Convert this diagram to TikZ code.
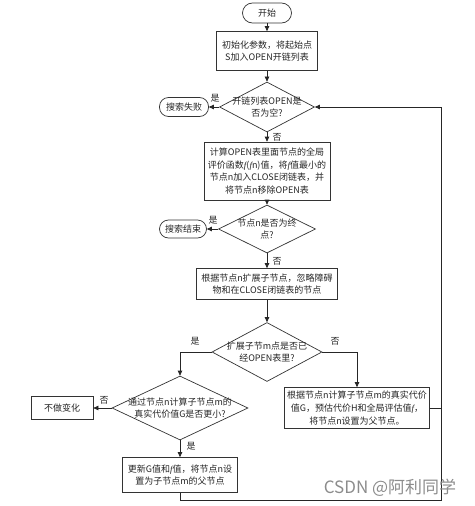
\documentclass[tikz,border=0pt]{standalone}
\usepackage{fontspec}
\setmainfont{Noto Sans CJK SC}
\newfontfamily\latserif{Liberation Serif}
\usetikzlibrary{shapes.geometric,arrows.meta}
\newcommand{\fvar}{{\latserif\itshape f}}
\begin{document}
\begin{tikzpicture}[x=1pt,y=-1pt,line width=0.7pt,
  box/.style={draw=black!80, fill=white, inner sep=0pt, align=center,
    font=\fontsize{9}{12.7}\selectfont, text=black!85},
  term/.style={box, rounded corners=9pt},
  dia/.style={draw=black!80, diamond, inner sep=0pt},
  txt/.style={inner sep=0pt, align=center, font=\fontsize{9}{12.7}\selectfont, text=black!85},
  lbl/.style={inner sep=0pt, font=\fontsize{9}{11}\selectfont, text=black!85},
  arr/.style={-{Triangle[length=5pt,width=4.5pt]}},
  conn/.style={draw=black!85}]
\useasboundingbox (0,0) rectangle (474,506);
% nodes
\node[term, minimum width=49, minimum height=20, rounded corners=10pt] (start) at (267,13) {开始};
\node[box, minimum width=101, minimum height=39] (init) at (267,51) {初始化参数，将起始点\\S加入OPEN开链列表};
\node[dia, minimum width=95, minimum height=50] (d1) at (267,107) {};
\node[txt] (t1) at (d1) {开链列表OPEN是\\否为空?};
\node[term, minimum width=49, minimum height=19] (fail) at (184,107) {搜索失败};
\node[box, minimum width=126, minimum height=58] (calc) at (267,171) {计算OPEN表里面节点的全局\\评价函数\fvar(\fvar{}n)值，将\fvar 值最小的\\节点n加入CLOSE闭链表，并\\将节点n移除OPEN表};
\node[dia, minimum width=97, minimum height=48] (d2) at (267,229) {};
\node[txt] (t2) at (d2) {节点n是否为终\\点?};
\node[term, minimum width=47, minimum height=18] (end) at (183,229) {搜索结束};
\node[box, minimum width=141, minimum height=31] (expand) at (267,284) {根据节点n扩展子节点，忽略障碍\\物和在CLOSE闭链表的节点};
\node[dia, minimum width=110, minimum height=59] (d3) at (267,352) {};
\node[txt] (t3) at (d3) {扩展子节m点是否已\\经OPEN表里?};
\node[dia, minimum width=136, minimum height=64] (d4) at (180,408) {};
\node[txt] (t4) at (d4) {通过节点n计算子节点m的\\真实代价值G是否更小?};
\node[box, minimum width=62, minimum height=23] (keep) at (62,408) {不做变化};
\node[box, minimum width=115, minimum height=35] (upd) at (180,475) {更新G值和\fvar 值，将节点n设\\置为子节点m的父节点};
\node[box, minimum width=145, minimum height=41] (calcm) at (357,408) {根据节点n计算子节点m的真实代价\\值G，预估代价H和全局评估值\fvar，\\将节点n设置为父节点。};
\coordinate (rb) at (441,500);
% connectors
\draw[conn, arr] (start) -- (init);
\draw[conn, arr] (init) -- (d1);
\draw[conn, arr] (d1.west) -- (fail.east);
\draw[conn, arr] (d1.south) -- (calc.north);
\draw[conn, arr] (calc.south) -- (d2.north);
\draw[conn, arr] (d2.west) -- (end.east);
\draw[conn, arr] (d2.south) -- (expand.north);
\draw[conn, arr] (expand.south) -- (d3.north);
\draw[conn, arr] (d3.west) -| (d4.north);
\draw[conn, arr] (d3.east) -| (calcm.north);
\draw[conn, arr] (d4.west) -- (keep.east);
\draw[conn, arr] (d4.south) -- (upd.north);
\draw[conn, arr] (upd.south) |- (rb) |- (d1.east);
\draw[conn] (calcm.east) -- (calcm.east -| rb);
% labels
\node[lbl] (l1) at (215,98) {是};
\node[lbl] (l2) at (277,137) {否};
\node[lbl] (l3) at (213,220) {是};
\node[lbl] (l4) at (277,261) {否};
\node[lbl] (l5) at (195,341) {是};
\node[lbl] (l6) at (335,341) {否};
\node[lbl] (l7) at (104,400) {否};
\node[lbl] (l8) at (191,446) {是};
% watermark
\node[inner sep=0pt, text=black!45, font=\fontsize{17}{17}\selectfont] (wm) at (390,488) {CSDN @阿利同学};
\end{tikzpicture}
\end{document}
